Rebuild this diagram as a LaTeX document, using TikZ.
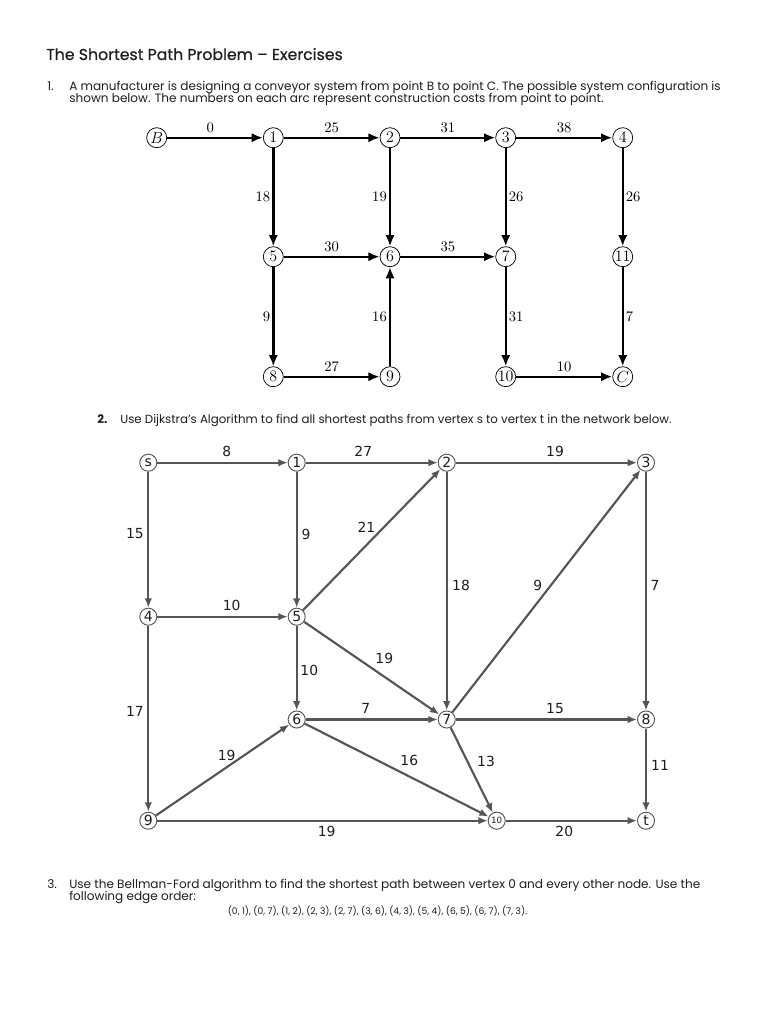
\documentclass[tikz,border=0pt]{standalone}
\usepackage[no-math]{fontspec}
\setmainfont{Poppins}
\newfontfamily\netfont{DejaVu Sans}
\usetikzlibrary{arrows.meta}
\definecolor{Ink}{HTML}{1E1E1E}
\definecolor{Wire}{HTML}{555555}
\tikzset{
  ttl/.style={anchor=base west,inner sep=0,text=Ink,font=\fontsize{11.8}{13}\selectfont\addfontfeatures{FakeBold=0.5}},
  num/.style={anchor=base west,inner sep=0,text=Ink,font=\fontsize{9.05}{10}\selectfont},
  txt/.style={num},
  vtx/.style={circle,draw=black,fill=white,line width=0.55pt,minimum size=15pt,inner sep=0pt,font=\fontsize{12}{12}\selectfont},
  arc/.style={draw=black,line width=1.8pt,-{Latex[length=8.5pt,width=7pt]}},
  wt/.style={font=\fontsize{10.8}{11}\selectfont,inner sep=1pt},
  gv/.style={circle,draw=Wire,fill=white,line width=0.7pt,minimum size=12.8pt,inner sep=0pt,text=Ink,font=\netfont\fontsize{10.5}{11}\selectfont},
  garc/.style={draw=Wire,line width=1.6pt,-{Latex[length=7pt,width=5.6pt]}},
  gw/.style={font=\netfont\fontsize{10.4}{11}\selectfont,text=Ink,inner sep=0pt},
}
\begin{document}
\begin{tikzpicture}[x=0.75pt,y=-0.75pt]
\useasboundingbox (0,0) rectangle (768,1024);
\fill[white] (0,0) rectangle (768,1024);
% -header-
\node[ttl] (title) at (46,60) {The Shortest Path Problem – Exercises};
\node[num] (k1) at (47,90.5) {1.};
\node[txt] (t1a) at (69,90.5) {A manufacturer is designing a conveyor system from point B to point C. The possible system configuration is};
\node[txt] (t1b) at (69,102.5) {shown below. The numbers on each arc represent construction costs from point to point.};
% -conveyor network-
\begin{scope}
\node[vtx] (pB) at (156.7,137.7) {$B$};
\node[vtx] (p1) at (273.3,137.7) {$1$};
\node[vtx] (p2) at (390,137.7) {$2$};
\node[vtx] (p3) at (505.7,137.7) {$3$};
\node[vtx] (p4) at (622.7,137.7) {$4$};
\node[vtx] (p5) at (273.3,256.7) {$5$};
\node[vtx] (p6) at (390,256.7) {$6$};
\node[vtx] (p7) at (505.7,256.7) {$7$};
\node[vtx] (p11) at (622.7,256.7) {$11$};
\node[vtx] (p8) at (273.3,376.7) {$8$};
\node[vtx] (p9) at (390,376.7) {$9$};
\node[vtx] (p10) at (505.7,376.7) {$10$};
\node[vtx] (pC) at (622.7,376.7) {$C$};
\draw[arc] (pB) -- node[wt,above=2pt,pos=0.45] {$0$} (p1);
\draw[arc] (p1) -- node[wt,above=2pt] {$25$} (p2);
\draw[arc] (p2) -- node[wt,above=2pt] {$31$} (p3);
\draw[arc] (p3) -- node[wt,above=2pt] {$38$} (p4);
\draw[arc] (p5) -- node[wt,above=2pt] {$30$} (p6);
\draw[arc] (p6) -- node[wt,above=2pt] {$35$} (p7);
\draw[arc] (p8) -- node[wt,above=2pt] {$27$} (p9);
\draw[arc] (p10) -- node[wt,above=2pt] {$10$} (pC);
\draw[arc] (p1) -- node[wt,left=0.5pt] {$18$} (p5);
\draw[arc] (p2) -- node[wt,left=0.5pt] {$19$} (p6);
\draw[arc] (p3) -- node[wt,right=0.5pt] {$26$} (p7);
\draw[arc] (p4) -- node[wt,right=0.5pt] {$26$} (p11);
\draw[arc] (p5) -- node[wt,left=0.5pt] {$9$} (p8);
\draw[arc] (p9) -- node[wt,left=0.5pt] {$16$} (p6);
\draw[arc] (p7) -- node[wt,right=0.5pt] {$31$} (p10);
\draw[arc] (p11) -- node[wt,right=0.5pt] {$7$} (pC);
\end{scope}
% -dijkstra-
\node[num,font=\fontsize{8.87}{10}\selectfont] (k2) at (97,423.5) {\textbf{2.}};
\node[txt,font=\fontsize{8.87}{10}\selectfont] (t2) at (120,423.5) {Use Dijkstra’s Algorithm to find all shortest paths from vertex s to vertex t in the network below.};
\begin{scope}
\node[gv] (qs) at (148.3,462.7) {s};
\node[gv] (q1) at (296.7,462.7) {1};
\node[gv] (q2) at (446.7,462.7) {2};
\node[gv] (q3) at (646,462.7) {3};
\node[gv] (q4) at (148.3,616.7) {4};
\node[gv] (q5) at (296.7,616.7) {5};
\node[gv] (q6) at (296.7,719.5) {6};
\node[gv] (q7) at (446.7,719.5) {7};
\node[gv] (q8) at (646,719.5) {8};
\node[gv] (q9) at (148.3,820.7) {9};
\node[gv,font=\netfont\fontsize{6.5}{7}\selectfont] (q10) at (496.7,820.7) {10};
\node[gv] (qt) at (646,820.7) {t};
\draw[garc] (qs) -- (q1); \draw[garc] (q1) -- (q2); \draw[garc] (q2) -- (q3);
\draw[garc] (qs) -- (q4); \draw[garc] (q1) -- (q5); \draw[garc] (q5) -- (q2);
\draw[garc] (q2) -- (q7); \draw[garc] (q7) -- (q3); \draw[garc] (q3) -- (q8);
\draw[garc] (q4) -- (q5); \draw[garc] (q4) -- (q9); \draw[garc] (q5) -- (q7);
\draw[garc] (q5) -- (q6); \draw[garc] (q6) -- (q7); \draw[garc] (q7) -- (q8);
\draw[garc] (q9) -- (q6); \draw[garc] (q6) -- (q10); \draw[garc] (q7) -- (q10);
\draw[garc] (q8) -- (qt); \draw[garc] (q9) -- (q10); \draw[garc] (q10) -- (qt);
\node[gw] (ws1) at (226.7,451.7) {8};
\node[gw] (w12) at (363.3,451.7) {27};
\node[gw] (w23) at (555,451.7) {19};
\node[gw] (ws4) at (135,533.3) {15};
\node[gw] (w15) at (306,534.3) {9};
\node[gw] (w52) at (366.4,527.3) {21};
\node[gw] (w27) at (461,585) {18};
\node[gw] (w73) at (537.7,585) {9};
\node[gw] (w38) at (655,585) {7};
\node[gw] (w45) at (231.7,605) {10};
\node[gw] (w57) at (384.3,658.3) {19};
\node[gw] (w56) at (309.3,670) {10};
\node[gw] (w49) at (135,711.7) {17};
\node[gw] (w67) at (365.7,708.3) {7};
\node[gw] (w78) at (555,708.3) {15};
\node[gw] (w96) at (226.7,755) {19};
\node[gw] (w610) at (409.3,760) {16};
\node[gw] (w710) at (486,761.7) {13};
\node[gw] (w8t) at (660,765) {11};
\node[gw] (w910) at (326.7,831.7) {19};
\node[gw] (w10t) at (564.3,831.7) {20};
\end{scope}
% -bellman-ford-
\node[num] (k3) at (47,888.5) {3.};
\node[txt] (t3a) at (69,888.5) {Use the Bellman-Ford algorithm to find the shortest path between vertex 0 and every other node. Use the};
\node[txt] (t3b) at (69,900.5) {following edge order:};
\node[num,anchor=base,font=\fontsize{6.9}{7}\selectfont] (eo) at (377.5,914.5) {(0, 1), (0, 7), (1, 2), (2, 3), (2, 7), (3, 6), (4, 3), (5, 4), (6, 5), (6, 7), (7, 3).};
\end{tikzpicture}
\end{document}
